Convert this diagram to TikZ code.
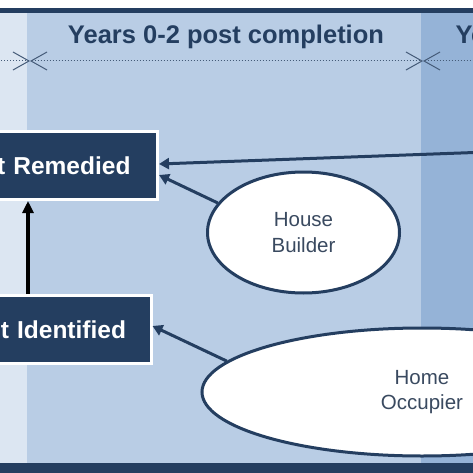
\documentclass[tikz,border=0pt]{standalone}
\usepackage{fontspec}
\setmainfont{Liberation Sans}
\usetikzlibrary{arrows.meta,shapes.geometric}

\definecolor{navy}{HTML}{243E60}
\definecolor{bandleft}{HTML}{DCE6F2}
\definecolor{bandmid}{HTML}{B9CDE5}
\definecolor{bandright}{HTML}{95B3D7}
\definecolor{actortext}{HTML}{3A4A60}

\begin{document}
\begin{tikzpicture}[x=1pt,y=-1pt,
    header/.style={text=navy,font=\fontsize{25.5}{30}\selectfont\bfseries},
    stage/.style={draw=white,line width=3pt,fill=navy,text=white,
        font=\fontsize{24.5}{29}\selectfont\bfseries,
        text width=200pt,align=right,minimum height=68pt,anchor=east},
    actor/.style={ellipse,draw=navy,line width=3pt,fill=white,inner sep=0pt,
        text=actortext,align=center,font=\fontsize{20.5}{25.5}\selectfont},
    link/.style={navy,line width=3pt,-{Triangle[length=10pt,width=11pt]}},
    rise/.style={black,line width=4pt,-{Triangle[length=12pt,width=11pt]}},
    span/.style={navy!85,line width=1pt,dotted},
    barb/.tip={Straight Barb[length=16pt,width=18pt]}]

    % Canvas
    \useasboundingbox (0,0) rectangle (473,473);
    \clip (0,0) rectangle (473,473);

    % Time bands
    \fill[white] (0,0) rectangle (473,8);
    \fill[navy] (0,8) rectangle (473,13);
    \fill[bandleft] (0,13) rectangle (27,463);
    \fill[bandmid] (27,13) rectangle (421,463);
    \fill[bandright] (421,13) rectangle (473,463);
    \fill[navy] (0,463) rectangle (473,473);

    % Band headings
    \node[header,anchor=base] (years) at (226,44) {Years 0-2 post completion};
    \node[header,anchor=base west] (later) at (452,44) {Ye};

    % Time span markers
    \coordinate (s0) at (-5,61);
    \coordinate (s1) at (30,61);
    \coordinate (s2) at (423,61);
    \coordinate (s3) at (480,61);
    \draw[span,-barb] (s0) -- (s1);
    \draw[span,barb-barb] (s1) -- (s2);
    \draw[span,barb-] (s2) -- (s3);

    % Stages
    \node[stage,inner xsep=27pt] (remedied) at (159,165.5) {t Remedied};
    \node[stage,inner xsep=25pt] (identified) at (152.5,329.5) {t Identified};

    % Actors
    \node[actor,minimum width=192pt,minimum height=121pt] (builder)
        at (303.5,232.5) {House\\Builder};
    \node[actor,minimum width=440pt,minimum height=128pt] (occupier)
        at (422,392) {Home\\Occupier};

    % Links
    \coordinate (lift) at (28,0);
    \coordinate (far) at (480,152.3);
    \draw[rise] (identified.north -| lift) -- (remedied.south -| lift);
    \draw[link] (far) -- ([yshift=1.5pt]remedied.east);
    \draw[link] (builder.161) -- ([yshift=-9.5pt]remedied.east);
    \draw[link] (occupier.171) -- ([yshift=3.5pt]identified.east);
\end{tikzpicture}
\end{document}
